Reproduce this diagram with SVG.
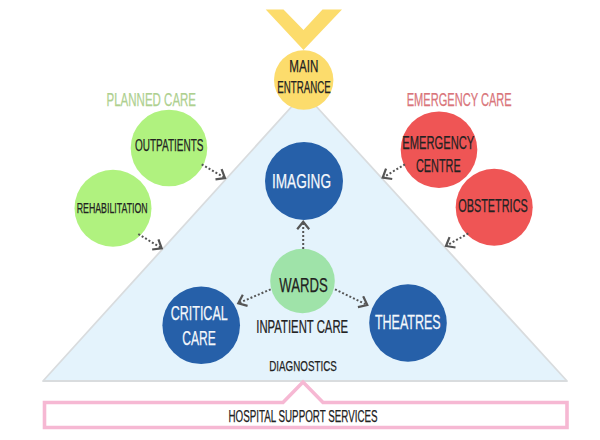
<svg xmlns="http://www.w3.org/2000/svg" width="600" height="440" viewBox="0 0 600 440">
<style>
text{font-family:"Liberation Sans",sans-serif;text-anchor:middle;fill:#222;stroke:#222;stroke-width:.25}
.y{fill:#fcdc6c}.g{fill:#b0f27f}.r{fill:#ef5555}.b{fill:#2660a9}.m{fill:#9fe3a9}
text.l{fill:#f4f8fc;stroke:#f4f8fc}
text.pc{fill:#aed08f;stroke:#aed08f}
text.ec{fill:#d9747a;stroke:#d9747a}
.c{fill:none;stroke:#555;stroke-width:2;stroke-dasharray:2 2;marker-end:url(#a)}
</style>
<defs>
<marker id="a" viewBox="-10 -7 12 14" refX="0" refY="0" markerWidth="12" markerHeight="14" orient="auto" markerUnits="userSpaceOnUse">
<path d="M-7.500-6L0 0L-7.500 6" fill="none" stroke="#555" stroke-width="2.200"/>
</marker>
</defs>
<rect width="600" height="440" fill="#fff"/>
<g id="inpatient-zone">
<path d="M304 93L567 381H43Z" fill="#e4f3fc" stroke="#d9dcde" stroke-width="1.800" stroke-linejoin="round"/>
<text transform="translate(302.200 332.700) scale(.63 1)" font-size="18">INPATIENT CARE</text>
<text x="303" y="371.300" font-size="15" textLength="67.500" lengthAdjust="spacingAndGlyphs">DIAGNOSTICS</text>
</g>
<g id="support-services">
<path d="M44.500 402.500H283L303 382L323 402.500H567V427.500H44.500Z" fill="#fff" stroke="#f6b8d3" stroke-width="3.600"/>
<text x="303" y="421.700" font-size="16" textLength="149" lengthAdjust="spacingAndGlyphs">HOSPITAL SUPPORT SERVICES</text>
</g>
<g id="main-entrance">
<path class="y" d="M265.700 9.500H283.500L303.500 30L322.500 9.500H342L303.500 50Z"/>
<circle class="y" cx="303.700" cy="80" r="29.700"/>
<text x="303.800" y="72" font-size="16" textLength="29" lengthAdjust="spacingAndGlyphs">MAIN</text>
<text x="304" y="92.500" font-size="16" textLength="53.500" lengthAdjust="spacingAndGlyphs">ENTRANCE</text>
</g>
<text class="pc" x="151.300" y="105.700" font-size="18.500" textLength="89.500" lengthAdjust="spacingAndGlyphs">PLANNED CARE</text>
<text class="ec" x="459.200" y="105.700" font-size="18.500" textLength="105" lengthAdjust="spacingAndGlyphs">EMERGENCY CARE</text>
<g id="outpatients">
<circle class="g" cx="169" cy="148" r="38.300"/>
<text x="169.200" y="151" font-size="16" textLength="68.500" lengthAdjust="spacingAndGlyphs">OUTPATIENTS</text>
</g>
<g id="rehabilitation">
<circle class="g" cx="113" cy="208.300" r="38.500"/>
<text x="112.200" y="213.300" font-size="14" textLength="71" lengthAdjust="spacingAndGlyphs">REHABILITATION</text>
</g>
<g id="emergency-centre">
<circle class="r" cx="439" cy="149.700" r="38.300"/>
<text x="438.300" y="149" font-size="19" textLength="72" lengthAdjust="spacingAndGlyphs">EMERGENCY</text>
<text x="438.300" y="171.700" font-size="19" textLength="44.700" lengthAdjust="spacingAndGlyphs">CENTRE</text>
</g>
<g id="obstetrics">
<circle class="r" cx="494.200" cy="207.300" r="38.500"/>
<text x="493" y="211.700" font-size="18" textLength="69.500" lengthAdjust="spacingAndGlyphs">OBSTETRICS</text>
</g>
<g id="imaging">
<circle class="b" cx="304" cy="181" r="39"/>
<text class="l" x="301.500" y="188" font-size="20" textLength="59" lengthAdjust="spacingAndGlyphs">IMAGING</text>
</g>
<g id="wards">
<circle class="m" cx="302.500" cy="281" r="32.300"/>
<text x="303.500" y="291.700" font-size="21" textLength="48.500" lengthAdjust="spacingAndGlyphs">WARDS</text>
</g>
<g id="critical-care">
<circle class="b" cx="201.200" cy="325.300" r="38.800"/>
<text class="l" x="199.200" y="320" font-size="21" textLength="57" lengthAdjust="spacingAndGlyphs">CRITICAL</text>
<text class="l" x="199" y="345" font-size="21" textLength="33.500" lengthAdjust="spacingAndGlyphs">CARE</text>
</g>
<g id="theatres">
<circle class="b" cx="408" cy="323" r="38.800"/>
<text class="l" transform="translate(407.800 329.300) scale(.595 1)" font-size="21">THEATRES</text>
</g>
<g id="connectors">
<path class="c" d="M201.700 164.300L225 178"/>
<path class="c" d="M138.300 234L161.700 248.300"/>
<path class="c" d="M405 164.300L382.700 177.700"/>
<path class="c" d="M468.300 233.300L446 246"/>
<path class="c" d="M303.200 249V221.700"/>
<path class="c" d="M270.700 289.300L238.300 303.300"/>
<path class="c" d="M335 289.300L367.300 305"/>
</g>
</svg>
